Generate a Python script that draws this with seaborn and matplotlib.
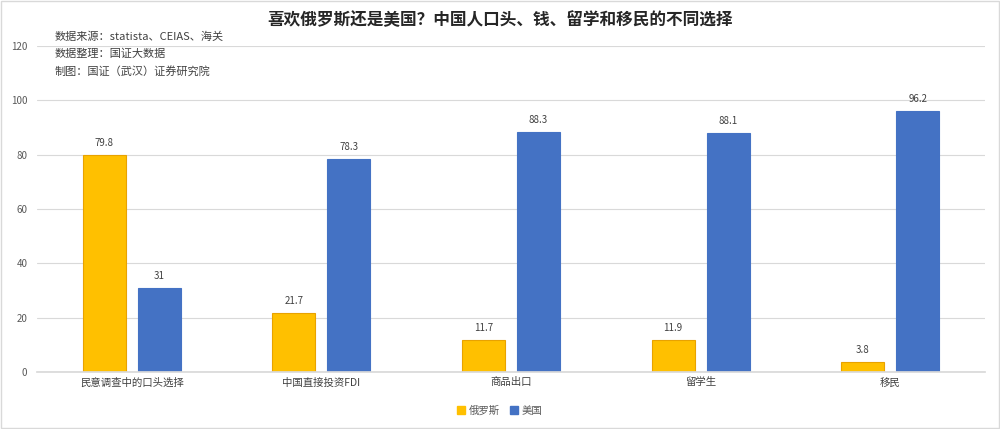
import matplotlib
matplotlib.use("Agg")
import matplotlib.pyplot as plt
import seaborn as sns
import pandas as pd

categories = ["民意调查中的口头选择", "中国直接投资FDI", "商品出口", "留学生", "移民"]
russia = [79.8, 21.7, 11.7, 11.9, 3.8]
usa = [31, 78.3, 88.3, 88.1, 96.2]
series_names = ["俄罗斯", "美国"]
yticks = [0, 20, 40, 60, 80, 100, 120]

sns.set_theme(style="white")
plt.rcParams['font.family'] = ['Noto Sans CJK SC', 'DejaVu Sans']

df = pd.DataFrame({
    "cat": categories * 2,
    "val": russia + usa,
    "series": [series_names[0]] * len(categories) + [series_names[1]] * len(categories),
})

fig = plt.figure(figsize=(10, 4.29), dpi=100)
ax = fig.add_axes([0.037, 0.133, 0.948, 0.76])
palette = {"俄罗斯": "#FFC000", "美国": "#4472C4"}
sns.barplot(data=df, x="cat", y="val", hue="series", order=categories,
            hue_order=series_names, palette=palette, width=0.58, gap=0.22,
            saturation=1, ax=ax, legend=False)
edge = {"俄罗斯": "#E8A200", "美国": "#4472C4"}
for cont, name in zip(ax.containers, series_names):
    for p in cont:
        p.set_edgecolor(edge[name])
        p.set_linewidth(0.8)
    ax.bar_label(cont, labels=[f"{v:g}" for v in cont.datavalues], padding=5,
                 fontsize=7, color="#404040")

ax.set_ylim(0, 120)
ax.set_yticks(yticks)
ax.set_xlim(-0.5, len(categories) - 0.5)
ax.yaxis.grid(True, color="#D9D9D9", linewidth=0.8)
ax.set_axisbelow(True)
for s in ["top", "right", "left"]:
    ax.spines[s].set_visible(False)
ax.spines["bottom"].set_color("#D9D9D9")
ax.tick_params(axis="y", labelsize=7, colors="#595959", length=0, pad=7)
ax.tick_params(axis="x", labelsize=7.5, colors="#404040", length=0, pad=4)
ax.set_xlabel("")
ax.set_ylabel("")

fig.text(0.5, 0.953, "喜欢俄罗斯还是美国？中国人口头、钱、留学和移民的不同选择",
         ha="center", va="center", fontsize=12, fontweight="bold", color="#262626")
notes = ["数据来源：statista、CEIAS、海关", "数据整理：国证大数据", "制图：国证（武汉）证券研究院"]
for i, t in enumerate(notes):
    fig.text(0.055, 0.915 - i * 0.041, t, ha="left", va="center", fontsize=8, color="#404040")

from matplotlib.patches import Patch
handles = [Patch(facecolor=palette[n], edgecolor=palette[n]) for n in series_names]
fig.legend(handles, series_names, loc="center", bbox_to_anchor=(0.5, 0.043), ncol=2,
           frameon=False, fontsize=7.5, handlelength=0.7, handleheight=0.7,
           columnspacing=1.0, handletextpad=0.4, labelcolor="#595959")

fig.patches.append(plt.Rectangle((0.001, 0.002), 0.998, 0.996, transform=fig.transFigure,
                                 fill=False, edgecolor="#D9D9D9", linewidth=1))
fig.savefig("out.png", dpi=100)
